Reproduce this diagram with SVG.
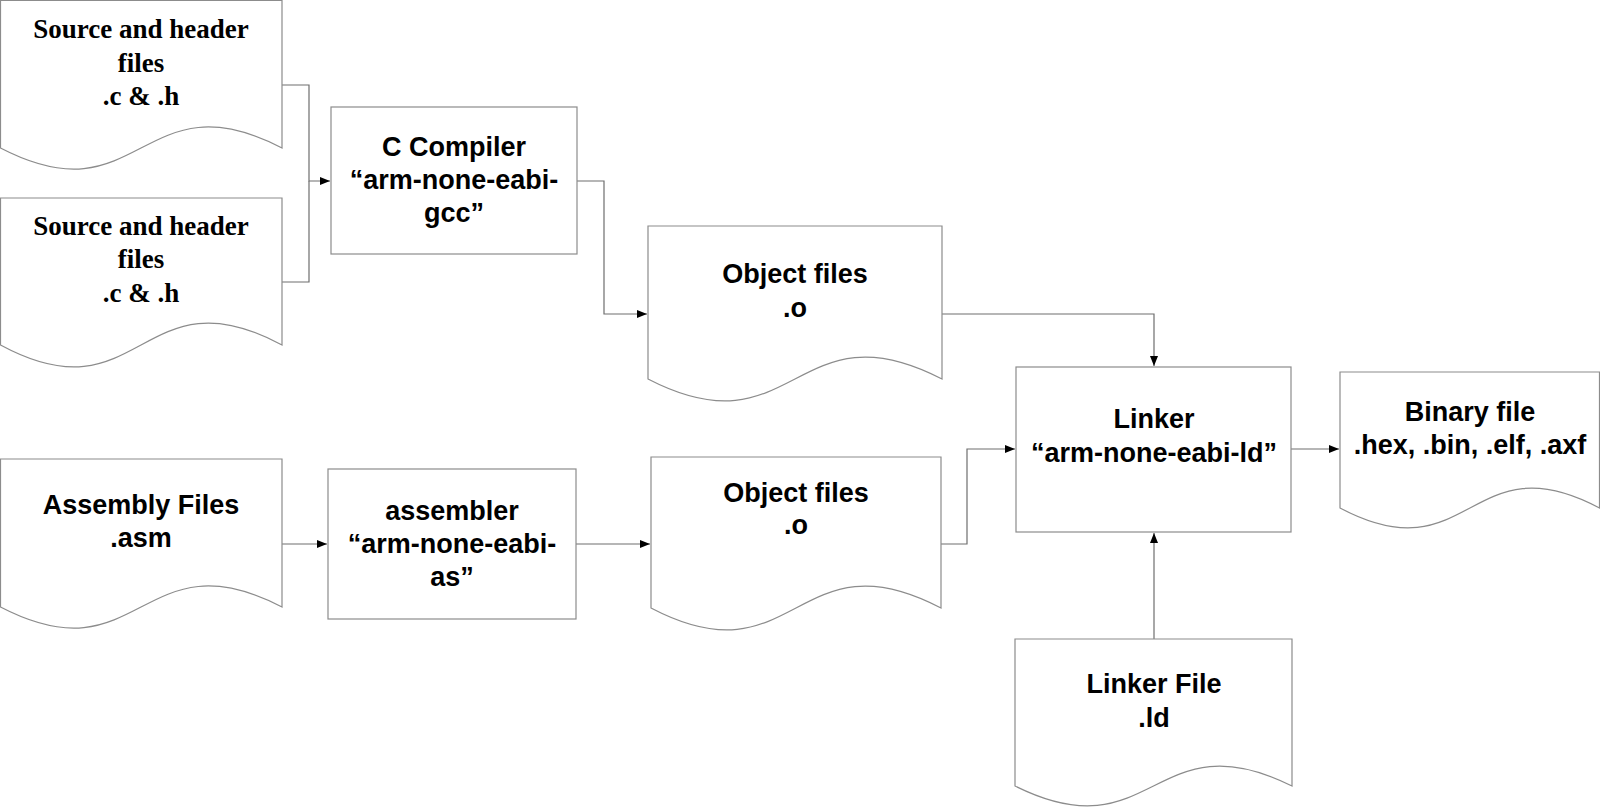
<svg xmlns="http://www.w3.org/2000/svg" width="1600" height="807" viewBox="0 0 1600 807">
<style>
.shape{fill:#fff;stroke:#8c8c8c;stroke-width:1.2}
.conn{fill:none;stroke:#6e6e6e;stroke-width:1.2}
.serif{font-family:"Liberation Serif","Times New Roman",serif;font-weight:bold;font-size:27px;fill:#000;text-anchor:middle}
.sans{font-family:"Liberation Sans",Arial,sans-serif;font-weight:bold;font-size:27px;fill:#000;text-anchor:middle}
</style>
<defs>
<marker id="arr" markerUnits="userSpaceOnUse" markerWidth="11" markerHeight="9" refX="10" refY="4" orient="auto">
<path d="M0,0 L10,4 L0,8 Z" fill="#000"/>
</marker>
</defs>
<rect width="1600" height="807" fill="#fff"/>
<g id="connectors">
<path class="conn" d="M282,85 H309 V181 H330" marker-end="url(#arr)"/>
<path class="conn" d="M282,282 H309 V181"/>
<path class="conn" d="M577,181 H604 V314 H647" marker-end="url(#arr)"/>
<path class="conn" d="M942,314 H1154 V366" marker-end="url(#arr)"/>
<path class="conn" d="M941,544 H967 V449 H1015" marker-end="url(#arr)"/>
<path class="conn" d="M282,544 H327" marker-end="url(#arr)"/>
<path class="conn" d="M576,544 H650" marker-end="url(#arr)"/>
<path class="conn" d="M1291,449 H1339" marker-end="url(#arr)"/>
<path class="conn" d="M1154,639 V533" marker-end="url(#arr)"/>
</g>
<g id="src1">
<path class="shape" d="M0.5,0.5 H282 V148 C141,75 141,221 0.5,148 Z"/>
<text class="serif" x="141" y="38">Source and header</text>
<text class="serif" x="141" y="72">files</text>
<text class="serif" x="141" y="105">.c &amp; .h</text>
</g>
<g id="src2">
<path class="shape" d="M0.5,198 H282 V345 C141,269 141,421 0.5,345 Z"/>
<text class="serif" x="141" y="235">Source and header</text>
<text class="serif" x="141" y="268">files</text>
<text class="serif" x="141" y="302">.c &amp; .h</text>
</g>
<g id="compiler">
<rect class="shape" x="331" y="107" width="246" height="147"/>
<text class="sans" x="454" y="156">C Compiler</text>
<text class="sans" x="454" y="189">“arm-none-eabi-</text>
<text class="sans" x="454" y="222">gcc”</text>
</g>
<g id="obj1">
<path class="shape" d="M648,226 H942 V379 C795,303 795,455 648,379 Z"/>
<text class="sans" x="795" y="283">Object files</text>
<text class="sans" x="795" y="317">.o</text>
</g>
<g id="asm">
<path class="shape" d="M0.5,459 H282 V607 C141,534 141,680 0.5,607 Z"/>
<text class="sans" x="141" y="514">Assembly Files</text>
<text class="sans" x="141" y="547">.asm</text>
</g>
<g id="assembler">
<rect class="shape" x="328" y="469" width="248" height="150"/>
<text class="sans" x="452" y="520">assembler</text>
<text class="sans" x="452" y="553">“arm-none-eabi-</text>
<text class="sans" x="452" y="586">as”</text>
</g>
<g id="obj2">
<path class="shape" d="M651,457 H941 V608 C796,532 796,684 651,608 Z"/>
<text class="sans" x="796" y="502">Object files</text>
<text class="sans" x="796" y="534">.o</text>
</g>
<g id="linker">
<rect class="shape" x="1016" y="367" width="275" height="165"/>
<text class="sans" x="1154" y="428">Linker</text>
<text class="sans" x="1154" y="462">“arm-none-eabi-ld”</text>
</g>
<g id="binary">
<path class="shape" d="M1340,372 H1599.5 V508 C1470,439 1470,577 1340,508 Z"/>
<text class="sans" x="1470" y="421">Binary file</text>
<text class="sans" x="1470" y="454">.hex, .bin, .elf, .axf</text>
</g>
<g id="linkerfile">
<path class="shape" d="M1015,639 H1292 V786 C1153.5,717 1153.5,855 1015,786 Z"/>
<text class="sans" x="1154" y="693">Linker File</text>
<text class="sans" x="1154" y="727">.ld</text>
</g>
</svg>
